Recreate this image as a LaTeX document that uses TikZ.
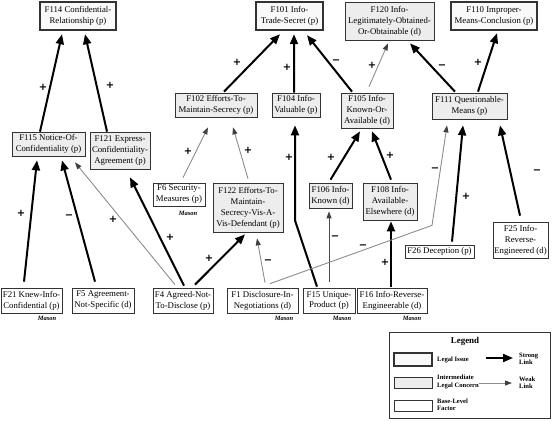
\documentclass[tikz,border=0pt]{standalone}
\usepackage{fontspec}
\setmainfont{Liberation Serif}
\newfontfamily\signfont{DejaVu Sans}
\usetikzlibrary{arrows.meta,calc}
\definecolor{interfill}{gray}{0.93}
\definecolor{issuefill}{gray}{0.975}
\definecolor{weakgray}{gray}{0.55}
\begin{document}
\begin{tikzpicture}[x=1bp,y=-1bp,
 box/.style={draw=black!80, line width=0.7bp, inner sep=1bp, align=center,
   font=\fontsize{8.8}{11}\selectfont, fill=white},
 issue/.style={box, line width=2.4bp, fill=issuefill},
 inter/.style={box, fill=interfill},
 base/.style={box},
 strong/.style={line width=2bp, -{Triangle[length=10bp,width=8bp]}},
 weak/.style={line width=0.9bp, draw=weakgray, -{Triangle[length=7bp,width=5bp,color=black!75]}},
 weakdark/.style={weak, draw=black!70},
 lbl/.style={font=\signfont\fontsize{10}{10}\bfseries\selectfont, inner sep=0},
 mason/.style={font=\fontsize{6.5}{7}\bfseries\itshape\selectfont, inner sep=0},
 legtxt/.style={font=\fontsize{6.6}{7.2}\bfseries\selectfont, inner sep=0, anchor=west, align=left},
]
\useasboundingbox (0,0) rectangle (552,420);

% top row
\node[issue, minimum width=76bp, minimum height=28bp] (F114) at (78,16) {F114 Confidential-\\Relationship (p)};
\node[issue, minimum width=67bp, minimum height=28bp] (F101) at (289.5,16) {F101 Info-\\Trade-Secret (p)};
\node[inter, minimum width=89bp, minimum height=38bp] (F120) at (389.5,21) {F120 Info-\\Legitimately-Obtained-\\Or-Obtainable (d)};
\node[issue, minimum width=86bp, minimum height=28bp] (F110) at (494,16) {F110 Improper-\\Means-Conclusion (p)};

% second row
\node[inter, minimum width=82bp, minimum height=24bp] (F102) at (216,105) {F102 Efforts-To-\\Maintain-Secrecy (p)};
\node[inter, minimum width=48bp, minimum height=24bp] (F104) at (296,105) {F104 Info-\\Valuable (p)};
\node[inter, minimum width=52bp, minimum height=35bp] (F105) at (367,110.5) {F105 Info-\\Known-Or-\\Available (d)};
\node[inter, minimum width=75bp, minimum height=26bp] (F111) at (469.5,106) {F111 Questionable-\\Means (p)};
\node[inter, minimum width=73bp, minimum height=24bp] (F115) at (48.5,144) {F115 Notice-Of-\\Confidentiality (p)};
\node[inter, minimum width=60bp, minimum height=37bp] (F121) at (120,150.5) {F121 Express-\\Confidentiality-\\Agreement (p)};

% third row
\node[base, minimum width=52bp, minimum height=23bp] (F6) at (179,194.5) {F6 Security-\\Measures (p)};
\node[inter, minimum width=70bp, minimum height=49bp] (F122) at (248,207.5) {F122 Efforts-To-\\Maintain-\\Secrecy-Vis-A-\\Vis-Defendant (p)};
\node[inter, minimum width=43bp, minimum height=25bp] (F106) at (330.5,195.5) {F106 Info-\\Known (d)};
\node[inter, minimum width=54bp, minimum height=37bp] (F108) at (390,201.5) {F108 Info-\\Available-\\Elsewhere (d)};
\node[base, minimum width=69bp, minimum height=13bp] (F26) at (439.5,251.5) {F26 Deception (p)};
\node[base, minimum width=55bp, minimum height=36bp] (F25) at (520.5,240) {F25 Info-\\Reverse-\\Engineered (d)};

% bottom row
\node[base, minimum width=61bp, minimum height=25bp] (F21) at (31.5,300.5) {F21 Knew-Info-\\Confidential (p)};
\node[base, minimum width=62bp, minimum height=25bp] (F5) at (103,300.5) {F5 Agreement-\\Not-Specific (d)};
\node[base, minimum width=60bp, minimum height=25bp] (F4) at (183,300.5) {F4 Agreed-Not-\\To-Disclose (p)};
\node[base, minimum width=71bp, minimum height=25bp] (F1) at (262.5,300.5) {F1 Disclosure-In-\\Negotiations (d)};
\node[base, minimum width=52bp, minimum height=25bp] (F15) at (329,300.5) {F15 Unique-\\Product (p)};
\node[base, minimum width=70bp, minimum height=25bp] (F16) at (392,300.5) {F16 Info-Reverse-\\Engineerable (d)};

% Mason tags
\node[mason] (m6) at (188,213) {Mason};
\node[mason] (m21) at (47,318) {Mason};
\node[mason] (m1) at (284,318) {Mason};
\node[mason] (m15) at (342,318) {Mason};
\node[mason] (m16) at (412,318) {Mason};

% links
\draw[strong] ($(F115.north)+(-8.5,0)$) -- ($(F114.south)+(-16,3)$);
\draw[strong] ($(F121.north)+(-13,0)$) -- ($(F114.south)+(7,3)$);
\draw[strong] ($(F102.north)+(8,-1)$) -- ($(F101.south)+(-9.5,3)$);
\draw[strong] ($(F104.north)+(-2,0)$) -- ($(F101.south)+(4.5,3)$);
\draw[strong] ($(F105.north)+(-15,-1)$) -- ($(F101.south)+(17.5,4)$);
\draw[weak] ($(F105.north)+(2,-6)$) -- ($(F120.south)+(-1.5,3)$);
\draw[strong] ($(F111.north)+(-14.5,-1)$) -- ($(F120.south)+(20.5,3)$);
\draw[strong] ($(F111.north)+(8.5,-1)$) -- ($(F110.south)+(3,2)$);
\draw[weak] ($(F6.north)+(4,-5)$) -- ($(F102.south)+(-8,10)$);
\draw[weak] ($(F122.north)+(0,-4)$) -- ($(F102.south)+(17,10)$);
\draw[strong] ($(F15.north)+(-12,-1)$) -- ($(F104.south)+(-1,103)$) -- ($(F104.south)+(-1,8)$);
\draw[strong] ($(F106.north)+(0,-3)$) -- ($(F105.south)+(-7,3)$);
\draw[strong] ($(F108.north)+(1,-3)$) -- ($(F105.south)+(5,3)$);
\draw[weakdark] ($(F15.north)+(0,-6)$) -- ($(F106.south)+(-1.5,3)$);
\draw[strong] ($(F16.north)+(-1,-1)$) -- ($(F108.south)+(1,1)$);
\draw[weak] ($(F1.north)+(7.5,-4)$) -- ($(F111.south)+(-37.5,106)$) -- ($(F111.south)+(-22.5,6)$);
\draw[strong] ($(F26.north)+(12.5,-3)$) -- ($(F111.south)+(-6.5,6)$);
\draw[strong] ($(F25.north)+(-0.5,-6)$) -- ($(F111.south)+(30.5,6)$);
\draw[strong] ($(F21.north)+(-7.5,-6)$) -- ($(F115.south)+(-11.5,4)$);
\draw[strong] ($(F5.north)+(-8,-6)$) -- ($(F115.south)+(13.5,4)$);
\draw[weak] ($(F4.north)+(-8,-3)$) -- ($(F115.south)+(26.5,6)$);
\draw[strong] ($(F4.north)+(1,-2)$) -- ($(F121.south)+(10,8)$);
\draw[strong] ($(F4.north)+(12,-3)$) -- ($(F122.south)+(-3,2)$);
\draw[weak] ($(F1.north)+(2.5,-5)$) -- ($(F122.south)+(9,6)$);

% link labels
\node[lbl] (l1) at (43,87) {+};
\node[lbl] (l2) at (110,85) {+};
\node[lbl] (l3) at (237,62) {+};
\node[lbl] (l4) at (287,67) {+};
\node[lbl] (l5) at (336,62) {−};
\node[lbl] (l6) at (372,65) {+};
\node[lbl] (l7) at (442,67) {−};
\node[lbl] (l8) at (478,62) {+};
\node[lbl] (l9) at (188,151) {+};
\node[lbl] (l10) at (248,150) {+};
\node[lbl] (l11) at (289,157) {+};
\node[lbl] (l12) at (331,157) {+};
\node[lbl] (l13) at (390,155) {+};
\node[lbl] (l14) at (335,238) {−};
\node[lbl] (l15) at (385,262) {+};
\node[lbl] (l16a) at (363,247) {−};
\node[lbl] (l16b) at (435,170) {−};
\node[lbl] (l17) at (466,196) {+};
\node[lbl] (l18) at (537,172) {−};
\node[lbl] (l19) at (21,213) {+};
\node[lbl] (l20) at (69,217) {−};
\node[lbl] (l21) at (113,219) {+};
\node[lbl] (l22) at (170,237) {+};
\node[lbl] (l23) at (209,258) {+};
\node[lbl] (l24) at (268,262) {−};

% legend
\node[draw=black!80, line width=0.8bp, minimum width=161bp, minimum height=86bp, inner sep=0] (legend) at (469.5,375) {};
\node[font=\fontsize{9}{10}\bfseries\selectfont, inner sep=0] (legtitle) at (465,341) {Legend};
\node[issue, minimum width=38bp, minimum height=13bp] (lgissue) at (413,359.5) {};
\node[inter, minimum width=38bp, minimum height=11bp] (lginter) at (413,382.5) {};
\node[base, minimum width=38bp, minimum height=11bp] (lgbase) at (413,405.5) {};
\node[legtxt] (lgt1) at (437,360) {Legal Issue};
\node[legtxt] (lgt2) at (437,382) {Intermediate\\Legal Concern};
\node[legtxt] (lgt3) at (437,405) {Base-Level\\Factor};
\coordinate (sa1) at (486,358);
\coordinate (sa2) at (513,358);
\draw[strong] (sa1) -- (sa2);
\coordinate (wa1) at (479,383);
\coordinate (wa2) at (512,383);
\draw[weak] (wa1) -- (wa2);
\node[legtxt] (lgt4) at (519,359) {Strong\\Link};
\node[legtxt] (lgt5) at (519,383) {Weak\\Link};
\end{tikzpicture}
\end{document}
